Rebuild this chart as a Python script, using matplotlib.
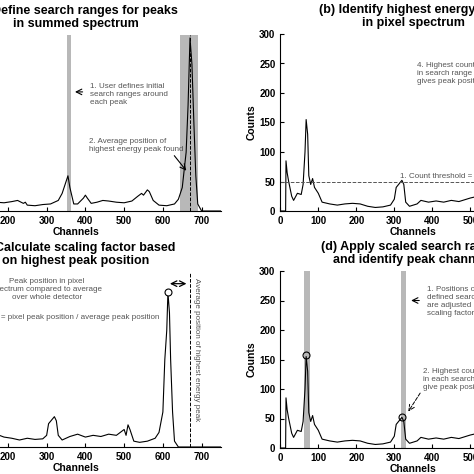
import matplotlib.pyplot as plt

plt.rcParams['font.family'] = ['Liberation Sans', 'DejaVu Sans']

# summed spectrum (a)
sum_ch = [130, 150, 170, 190, 210, 225, 240, 245, 250, 270, 290, 310, 330, 340, 350, 355, 360, 370, 380, 395,
          400, 405, 415, 430, 445, 460, 480, 500, 520, 535, 545, 550, 560, 565, 575, 590, 610, 630, 640, 650,
          660, 665, 670, 675, 680, 685, 690, 700, 750]
sum_counts = [12, 14, 15, 14, 16, 18, 13, 15, 10, 9, 11, 12, 18, 30, 50, 60, 40, 12, 12, 22,
              27, 22, 13, 15, 18, 17, 15, 14, 17, 25, 30, 27, 36, 33, 18, 10, 9, 12, 20, 40,
              100, 180, 295, 250, 150, 60, 12, 0, 0]

# high-energy pixel spectrum (c)
c_ch = [130, 150, 170, 190, 210, 230, 250, 270, 290, 300, 305, 315, 320, 325, 330, 340, 360, 380, 400, 420,
        440, 460, 480, 490, 500, 505, 510, 515, 525, 540, 560, 580, 590, 600, 605, 610, 613, 617, 620, 625,
        630, 640, 750]
c_counts = [20, 18, 22, 17, 15, 12, 15, 13, 14, 20, 40, 48, 52, 45, 20, 12, 18, 22, 17, 20,
            18, 22, 20, 25, 30, 20, 38, 30, 10, 8, 10, 15, 25, 60, 150, 200, 265, 230, 150, 60,
            10, 0, 0]

# low-energy pixel spectrum (b, d)
px_ch = [0, 14, 15, 18, 22, 30, 35, 45, 55, 60, 65, 68, 72, 75, 80, 85, 90, 100, 110, 130,
         150, 170, 190, 210, 230, 250, 270, 290, 300, 305, 315, 320, 325, 330, 340, 360, 370, 390, 410, 430,
         450, 470, 490, 500, 520, 540]
px_counts = [0, 0, 85, 65, 50, 25, 18, 30, 28, 45, 100, 155, 130, 60, 45, 55, 40, 30, 15, 12,
             10, 12, 13, 12, 8, 6, 7, 10, 20, 40, 48, 52, 45, 15, 8, 12, 18, 15, 17, 15,
             18, 16, 20, 22, 25, 24]

threshold = 50
avg_peak = 670
pix_peak = (613, 265)
d_peaks_ch = [68, 320]
d_peaks_counts = [157, 52]

W = H = 474.0
fig = plt.figure(figsize=(4.74, 4.74), dpi=100)


def make_ax(left, right, top, bottom):
    return fig.add_axes([left / W, 1 - bottom / H, (right - left) / W, (bottom - top) / H])


def style(ax, xmax, ylabel=True):
    ax.set_xlim(0, xmax)
    ax.set_ylim(0, 300)
    ax.spines['top'].set_visible(False)
    ax.spines['right'].set_visible(False)
    ax.tick_params(direction='in', length=3, labelsize=7)
    ax.set_xticks(range(0, xmax + 1, 100))
    ax.set_yticks(range(0, 301, 50))
    for lab in ax.get_xticklabels() + ax.get_yticklabels():
        lab.set_fontweight('bold')
    ax.set_xlabel('Channels', fontsize=7.5, fontweight='bold', labelpad=1)
    if ylabel:
        ax.set_ylabel('Counts', fontsize=7.5, fontweight='bold', labelpad=2)


gray = '#555555'
tfs = 5.8
title_kw = dict(fontsize=9, fontweight='bold', pad=6, linespacing=1.1)

# (a)
ax = make_ax(-69.6, 221, 35, 211)
style(ax, 750)
ax.axvspan(352, 363, color='#b8b8b8', lw=0)
ax.axvspan(644, 691, color='#b8b8b8', lw=0)
ax.axvline(avg_peak, color='k', ls='--', lw=0.7)
ax.plot(sum_ch, sum_counts, color='k', lw=0.8)
ax.set_title('(a) Define search ranges for peaks\nin summed spectrum', **title_kw)
ax.text(412, 218, '1. User defines initial\nsearch ranges around\neach peak', fontsize=tfs, color=gray, va='top')
ax.annotate('', xy=(366, 203), xytext=(400, 203), arrowprops=dict(arrowstyle='->', lw=0.8))
ax.text(410, 124, '2. Average position of\nhighest energy peak found', fontsize=tfs, color=gray, va='top')
ax.annotate('', xy=(665, 65), xytext=(625, 98), arrowprops=dict(arrowstyle='->', lw=0.8))

# (c)
ax = make_ax(-69.6, 221, 272, 447)
style(ax, 750)
ax.axvline(avg_peak, color='k', ls='--', lw=0.7)
ax.plot(c_ch, c_counts, color='k', lw=0.8)
ax.plot(*pix_peak, 'o', mfc='white', mec='k', ms=5, mew=0.8)
ax.set_title('(c) Calculate scaling factor based\non highest peak position', **title_kw)
ax.annotate('', xy=(pix_peak[0] - 2, 280), xytext=(avg_peak - 2, 280),
            arrowprops=dict(arrowstyle='<->', lw=0.9))
ax.text(300, 290, 'Peak position in pixel\nspectrum compared to average\nover whole detector',
        fontsize=tfs, color=gray, va='top', ha='center')
ax.text(592, 228, 'Scaling factor = pixel peak position / average peak position',
        fontsize=tfs, color=gray, va='top', ha='right')
ax.text(688, 290, 'Average position of highest energy peak', fontsize=tfs, color=gray,
        rotation=-90, va='top', ha='center')

# (b)
ax = make_ax(280.3, 280.3 + 266, 34, 211)
style(ax, 700)
ax.plot(px_ch, px_counts, color='k', lw=0.8)
ax.axhline(threshold, color=gray, ls='--', lw=0.7)
ax.set_title('(b) Identify highest energy peak\nin pixel spectrum', **title_kw)
ax.text(315, 53, '1. Count threshold = mean counts', fontsize=tfs, color=gray, va='bottom')
ax.text(360, 252, '4. Highest counts\nin search range\ngives peak position', fontsize=tfs, color=gray, va='top')

# (d)
ax = make_ax(280.3, 280.3 + 266, 271, 448)
style(ax, 700)
ax.axvspan(63, 78, color='#b8b8b8', lw=0)
ax.axvspan(317, 332, color='#b8b8b8', lw=0)
ax.plot(px_ch, px_counts, color='k', lw=0.8)
ax.plot(d_peaks_ch, d_peaks_counts, 'o', mfc='none', mec='k', ms=5, mew=0.8)
ax.set_title('(d) Apply scaled search ranges\nand identify peak channels', **title_kw)
ax.text(385, 275, '1. Positions of user\ndefined search ranges\nare adjusted by\nscaling factor',
        fontsize=tfs, color=gray, va='top')
ax.annotate('', xy=(337, 250), xytext=(373, 250), arrowprops=dict(arrowstyle='->', lw=0.8))
ax.text(375, 135, '2. Highest counts\nin each search range\ngive peak position', fontsize=tfs, color=gray, va='top')
ax.annotate('', xy=(333, 58), xytext=(372, 97), arrowprops=dict(arrowstyle='->', lw=0.7, ls='--'))

fig.savefig('out.png', dpi=100)
